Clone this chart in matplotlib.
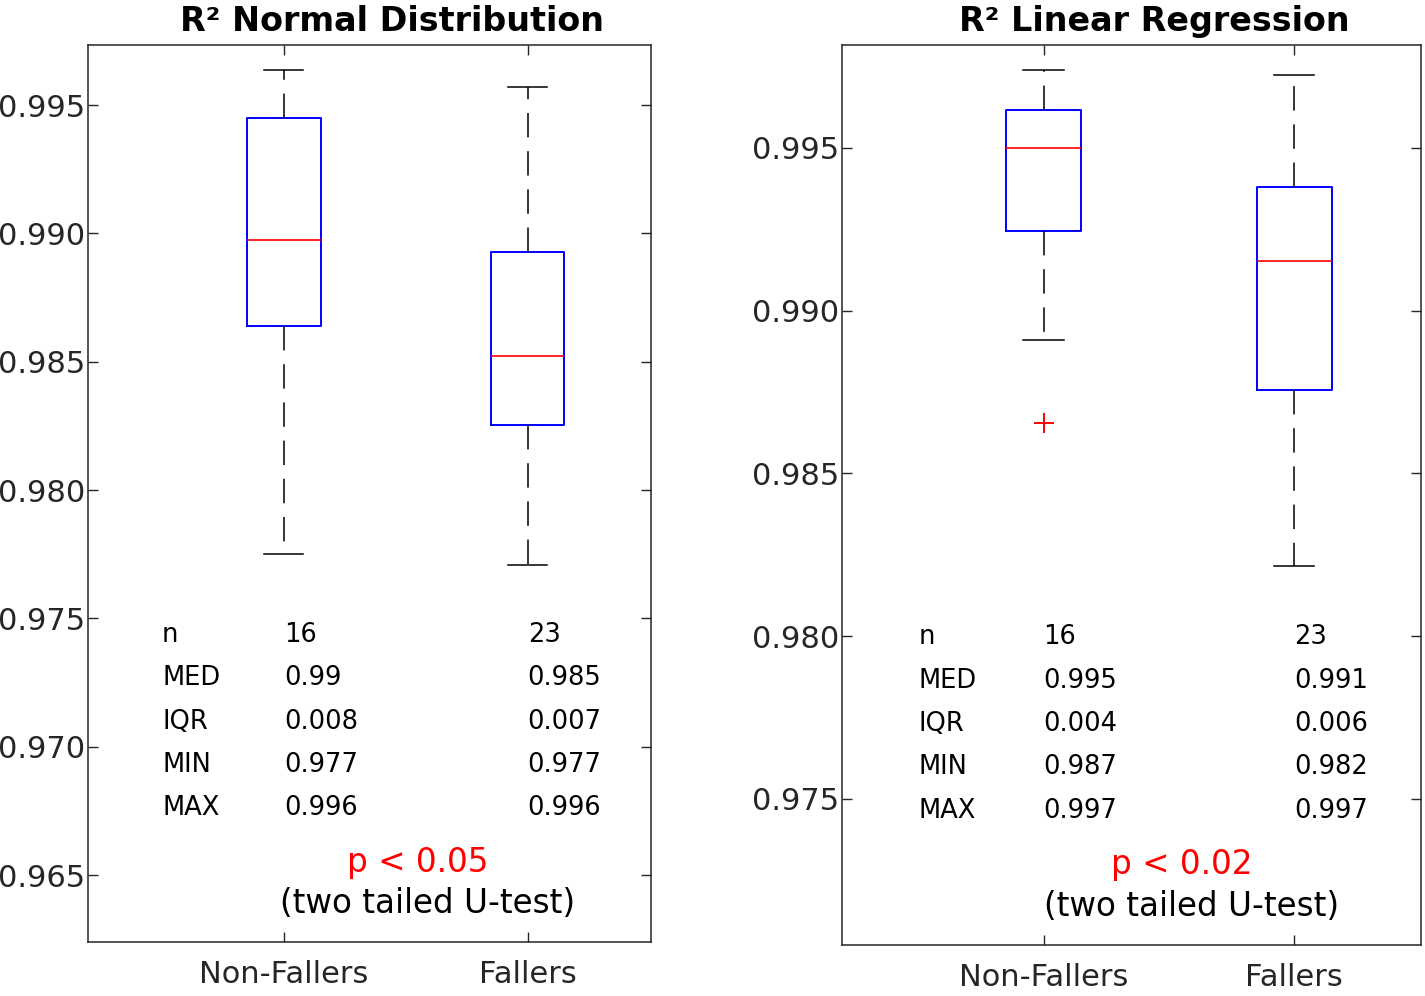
import matplotlib
matplotlib.use("Agg")
import matplotlib.pyplot as plt
import matplotlib.transforms as mtransforms

groups = ["Non-Fallers", "Fallers"]

# R^2 normal distribution
nd_q1 = [0.98640, 0.98254]
nd_med = [0.98973, 0.98523]
nd_q3 = [0.99449, 0.98926]
nd_lo = [0.97751, 0.97708]
nd_hi = [0.99636, 0.99570]
nd_fliers = [[], []]

# R^2 linear regression
lr_q1 = [0.99245, 0.98757]
lr_med = [0.99500, 0.99153]
lr_q3 = [0.99617, 0.99380]
lr_lo = [0.98911, 0.98214]
lr_hi = [0.99740, 0.99724]
lr_fliers = [[0.98654], []]

row_names = ["n", "MED", "IQR", "MIN", "MAX"]
nd_table = [["16", "0.99", "0.008", "0.977", "0.996"],
            ["23", "0.985", "0.007", "0.977", "0.996"]]
lr_table = [["16", "0.995", "0.004", "0.987", "0.997"],
            ["23", "0.991", "0.006", "0.982", "0.997"]]

nd_p = "p < 0.05"
lr_p = "p < 0.02"

nd_yticks = [0.965, 0.970, 0.975, 0.980, 0.985, 0.990, 0.995]
lr_yticks = [0.975, 0.980, 0.985, 0.990, 0.995]

plt.rcParams["font.family"] = "DejaVu Sans"

fig = plt.figure(figsize=(14.25, 9.96), dpi=100)
ax1 = fig.add_axes([0.06175, 0.05422, 0.39509, 0.90060])
ax2 = fig.add_axes([0.59088, 0.05120, 0.40632, 0.90361])

gray = "#262626"
row_y = [0.3420, 0.2938, 0.2456, 0.1974, 0.1492]


def draw(ax, q1, med, q3, lo, hi, fliers, table, ptxt, yticks, ylim, title):
    stats = []
    for i in range(2):
        stats.append(dict(q1=q1[i], med=med[i], q3=q3[i], whislo=lo[i],
                          whishi=hi[i], fliers=fliers[i], label=groups[i]))
    ax.bxp(stats, positions=[1, 2], widths=0.30, capwidths=0.16,
           boxprops=dict(color="#0000ff", linewidth=1.4),
           medianprops=dict(color="#ff0000", linewidth=1.2),
           whiskerprops=dict(color="black", linewidth=1.1,
                             linestyle=(0, (16, 9))),
           capprops=dict(color="black", linewidth=1.1),
           flierprops=dict(marker="+", markeredgecolor="#ff0000",
                           markersize=14, markeredgewidth=1.4))
    ax.set_xlim(0.196, 2.506)
    ax.set_ylim(*ylim)
    ax.set_yticks(yticks)
    ax.set_yticklabels(["%.3f" % v for v in yticks])
    ax.set_xticks([1, 2])
    ax.set_xticklabels(groups)
    ax.tick_params(axis="both", direction="in", length=7, width=1.0,
                   top=True, right=True, colors=gray, labelcolor=gray)
    ax.tick_params(axis="y", labelsize=22, pad=2)
    ax.tick_params(axis="x", labelsize=22, pad=13)
    for s in ax.spines.values():
        s.set_color(gray)
        s.set_linewidth(1.1)
    ax.set_title(title, fontsize=24, fontweight="bold", x=0.54, pad=10)

    trans = mtransforms.blended_transform_factory(ax.transData, ax.transAxes)
    for r, name in enumerate(row_names):
        ax.text(0.5, row_y[r], name, transform=trans, fontsize=18.5,
                va="center", ha="left")
        for g in range(2):
            ax.text(g + 1, row_y[r], table[g][r], transform=trans,
                    fontsize=18.5, va="center", ha="left")
    ax.text(1.55, 0.0890, ptxt, transform=trans, fontsize=23.5,
            color="#ff0000", ha="center", va="center")
    ax.text(1.59, 0.0428, "(two tailed U-test)", transform=trans,
            fontsize=23.5, ha="center", va="center")


draw(ax1, nd_q1, nd_med, nd_q3, nd_lo, nd_hi, nd_fliers, nd_table, nd_p,
     nd_yticks, (0.96239, 0.99734), "R² Normal Distribution")
draw(ax2, lr_q1, lr_med, lr_q3, lr_lo, lr_hi, lr_fliers, lr_table, lr_p,
     lr_yticks, (0.97051, 0.99816), "R² Linear Regression")

fig.savefig("out.png", dpi=100)
